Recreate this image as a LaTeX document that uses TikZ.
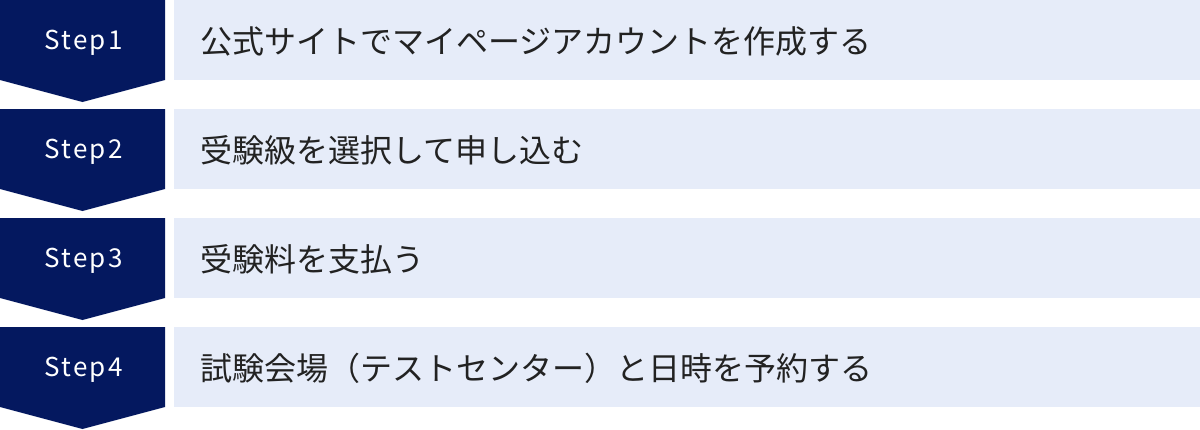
\documentclass[tikz,border=0pt]{standalone}
\usepackage{fontspec}
\setmainfont{Noto Sans CJK JP}
\newfontfamily\stepfont[LetterSpace=9]{Noto Sans CJK JP}
\definecolor{navy}{HTML}{04185F}
\definecolor{pale}{HTML}{E6ECF9}
\definecolor{ink}{HTML}{222222}
\tikzset{
  steplabel/.style={text=white,font=\stepfont\fontsize{26}{26}\selectfont,anchor=base,inner sep=0pt},
  desc/.style={text=ink,font=\fontsize{32}{32}\selectfont,anchor=west,inner sep=0pt},
  chevron/.style={fill=navy,draw=none},
  band/.style={fill=pale,draw=none},
}
\begin{document}
\begin{tikzpicture}[x=1pt,y=-1pt]
\useasboundingbox (0,0) rectangle (1200,429);
\foreach \top in {0,109,218,327}{
  \fill[chevron] (0,\top) -- (165,\top) -- (165,\top+80) -- (82.5,\top+102) -- (0,\top+80) -- cycle;
  \fill[band] (174,\top) rectangle (1200,\top+80);
}
\node[steplabel] (s1) at (83.5,49) {Step1};
\node[steplabel] (s2) at (83.5,158) {Step2};
\node[steplabel] (s3) at (83.5,267) {Step3};
\node[steplabel] (s4) at (83.5,376) {Step4};
\node[desc] (d1) at (200,41) {公式サイトでマイページアカウントを作成する};
\node[desc] (d2) at (200,150) {受験級を選択して申し込む};
\node[desc] (d3) at (200,259) {受験料を支払う};
\node[desc] (d4) at (200,368) {試験会場（テストセンター）と日時を予約する};
\end{tikzpicture}
\end{document}
